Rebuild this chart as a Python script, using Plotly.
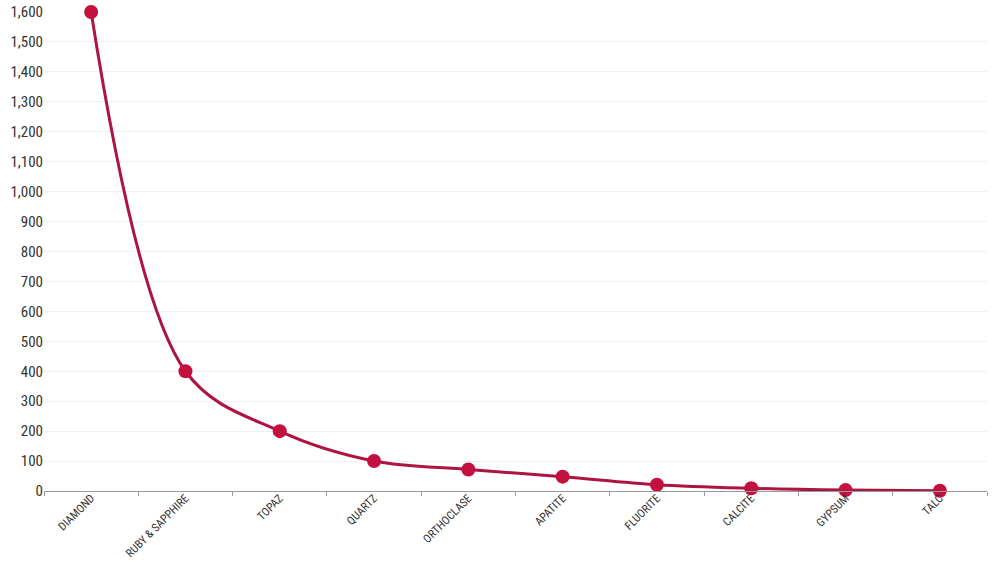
import plotly.graph_objects as go

minerals = ["DIAMOND", "RUBY & SAPPHIRE", "TOPAZ", "QUARTZ", "ORTHOCLASE",
            "APATITE", "FLUORITE", "CALCITE", "GYPSUM", "TALC"]
hardness = [1600, 400, 200, 100, 72, 48, 21, 9, 3, 1]
y_ticks = list(range(0, 1700, 100))

FONT = "Liberation Sans Narrow, Roboto Condensed, Roboto, sans-serif"

fig = go.Figure(
    go.Scatter(
        x=minerals,
        y=hardness,
        mode="lines+markers",
        line=dict(color="#ad1440", width=3, shape="spline", smoothing=1),
        marker=dict(color="#c4103f", size=14),
        cliponaxis=False,
    )
)

fig.update_layout(
    width=1000,
    height=562,
    margin=dict(l=44, r=13, t=12, b=71),
    plot_bgcolor="white",
    paper_bgcolor="white",
    showlegend=False,
    font=dict(family=FONT, size=13, color="#333333"),
)
fig.update_xaxes(
    type="category",
    range=[-0.5, 9.5],
    tickangle=-45,
    tickson="boundaries",
    ticks="outside",
    ticklen=4,
    tickcolor="#999999",
    showline=True,
    linecolor="#999999",
    showgrid=False,
    automargin=False,
    ticklabelstandoff=-5,
    tickfont=dict(size=11.5),
)
fig.update_yaxes(
    range=[0, 1600],
    tickvals=y_ticks,
    tickformat=",",
    gridcolor="#f0f0f0",
    zeroline=False,
    ticks="",
    automargin=False,
    tickfont=dict(size=15),
)

# drop the default 8px body margin so the figure sits flush with the window
fig.write_html("out.html", config={"displayModeBar": False},
               post_script="document.body.style.margin='0';")
